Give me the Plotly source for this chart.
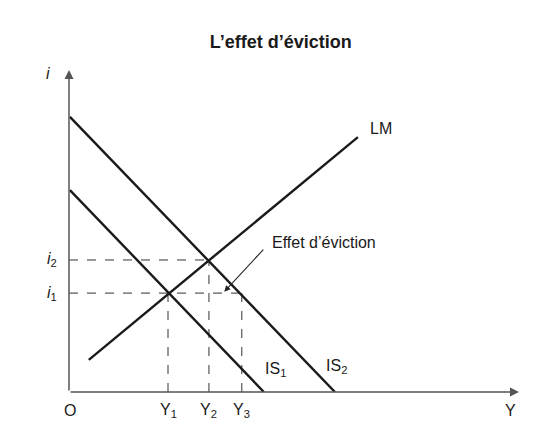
import plotly.graph_objects as go

# Data (arbitrary model units)
lm_x = [4.4, 64.2]
lm_y = [7.0, 55.4]
is1_x = [0.2, 43.3]
is1_y = [43.9, 0.0]
is2_x = [0.2, 59.1]
is2_y = [59.8, 0.0]
i_levels = {"i1": 21.5, "i2": 28.7}
y_levels = {"Y1": 22.0, "Y2": 31.1, "Y3": 38.4}
x_max = 100
y_max = 70

i1, i2 = i_levels["i1"], i_levels["i2"]
Y1, Y2, Y3 = y_levels["Y1"], y_levels["Y2"], y_levels["Y3"]

INK = "#1a1a1a"
AXIS = "#555555"
FONT = "Liberation Sans, Arial, sans-serif"

fig = go.Figure()

# Dashed guides
dash_segments = [
    ([0, Y2], [i2, i2]),
    ([0, Y3], [i1, i1]),
    ([Y1, Y1], [0, i1]),
    ([Y2, Y2], [0, i2]),
    ([Y3, Y3], [0, i1]),
]
for xs, ys in dash_segments:
    fig.add_trace(go.Scatter(x=xs, y=ys, mode="lines",
                             line=dict(color="#333333", width=1, dash="dash"),
                             hoverinfo="skip", showlegend=False))

# Curves
for xs, ys in [(lm_x, lm_y), (is1_x, is1_y), (is2_x, is2_y)]:
    fig.add_trace(go.Scatter(x=xs, y=ys, mode="lines",
                             line=dict(color=INK, width=2.4),
                             hoverinfo="skip", showlegend=False))

# Axes lines with arrows
fig.add_annotation(x=x_max, y=0, ax=0, ay=0, xref="x", yref="y", axref="x", ayref="y",
                   text="", showarrow=True, arrowhead=2, arrowsize=1.2, arrowwidth=1.5,
                   arrowcolor=AXIS)
fig.add_annotation(x=0, y=y_max, ax=0, ay=0, xref="x", yref="y", axref="x", ayref="y",
                   text="", showarrow=True, arrowhead=2, arrowsize=1.2, arrowwidth=1.5,
                   arrowcolor=AXIS)

# Crowding-out arrow
fig.add_annotation(x=34.5, y=21.8, ax=43.5, ay=31.3, xref="x", yref="y", axref="x", ayref="y",
                   text="", showarrow=True, arrowhead=2, arrowsize=1.1, arrowwidth=1.1,
                   arrowcolor="#222222")

def label(x, y, text, size=16, xanchor="center", yanchor="middle", xshift=0, yshift=0):
    fig.add_annotation(x=x, y=y, xref="x", yref="y", text=text, showarrow=False,
                       font=dict(family=FONT, size=size, color=INK),
                       xanchor=xanchor, yanchor=yanchor, xshift=xshift, yshift=yshift)

label(0, y_max, "<i>i</i>", xshift=-21, yshift=-3)
label(0, i2, "<i>i</i><sub>2</sub>", xshift=-17)
label(0, i1, "<i>i</i><sub>1</sub>", xshift=-17)
label(0, 0, "O", yshift=-18, xshift=1)
label(Y1, 0, "Y<sub>1</sub>", yshift=-18)
label(Y2, 0, "Y<sub>2</sub>", yshift=-18)
label(Y3, 0, "Y<sub>3</sub>", yshift=-18)
label(x_max, 0, "Y", yshift=-18, xshift=-9)
label(lm_x[1], lm_y[1], "LM", xshift=23, yshift=9)
label(is1_x[1], 0, "IS<sub>1</sub>", xshift=12, yshift=23)
label(is2_x[1], 0, "IS<sub>2</sub>", xshift=2, yshift=26)
label(45.0, 32.4, "Effet d’éviction", xanchor="left", xshift=-2)

fig.update_layout(
    width=549, height=417,
    margin=dict(l=61, r=38, t=62, b=33),
    paper_bgcolor="white", plot_bgcolor="white",
    title=dict(text="<b>L’effet d’éviction</b>", x=0.497, xanchor="center",
               y=1 - 34 / 417, yanchor="middle",
               font=dict(family=FONT, size=18, color=INK)),
    xaxis=dict(range=[0, x_max], visible=False, fixedrange=True),
    yaxis=dict(range=[0, y_max], visible=False, fixedrange=True),
)

fig.write_html("out.html")
